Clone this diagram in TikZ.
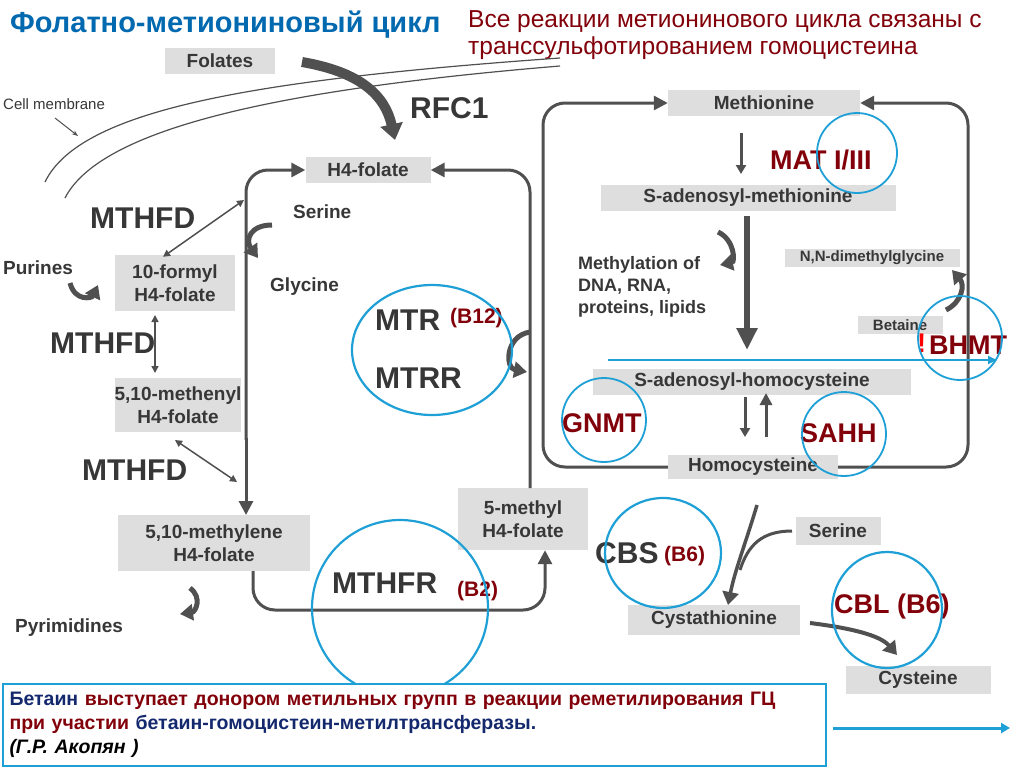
\documentclass[tikz,border=0pt]{standalone}
\usepackage{fontspec}
\setmainfont{Liberation Sans}
\usetikzlibrary{arrows.meta}
\definecolor{gbox}{RGB}{222,222,222}
\definecolor{gtxt}{RGB}{55,55,55}
\definecolor{gline}{RGB}{80,80,80}
\definecolor{dred}{RGB}{130,0,10}
\definecolor{tblue}{RGB}{0,105,175}
\definecolor{cblue}{RGB}{30,160,215}
\definecolor{nblue}{RGB}{20,40,110}
\tikzset{
 gb/.style={fill=gbox,text=gtxt,font=\bfseries\fontsize{19}{23}\selectfont,inner sep=0pt,align=center},
 glab/.style={text=gtxt,font=\bfseries\fontsize{19}{22}\selectfont,anchor=west,inner sep=0pt,align=left},
 enz/.style={text=gtxt,font=\bfseries\fontsize{30}{32}\selectfont,anchor=west,inner sep=0pt},
 red/.style={text=dred,font=\bfseries\fontsize{27}{30}\selectfont,anchor=west,inner sep=0pt},
 rp/.style={text=dred,font=\bfseries\fontsize{21}{24}\selectfont,anchor=west,inner sep=0pt},
 ring/.style={draw=cblue,line width=2.2pt},
 flow/.style={draw=gline,line width=3pt,rounded corners=22pt},
 thin2/.style={draw=gline,line width=1.5pt,{Triangle[length=7pt,width=7pt]}-{Triangle[length=7pt,width=7pt]}},
 tip/.style={-{Triangle[length=14pt,width=14pt]}},
 fat/.style={draw=gline,line width=6pt,-{Triangle[length=13pt,width=16pt]}},
}
\begin{document}
\begin{tikzpicture}[x=1pt,y=-1pt]
\useasboundingbox (0,0) rectangle (1024,768);
\fill[white] (0,0) rectangle (1024,768);
% titles
\node[anchor=west,text=tblue,font=\bfseries\fontsize{29}{31}\selectfont,inner sep=0pt] (title) at (10,25) {Фолатно-метиониновый цикл};
\node[anchor=north west,text=dred,font=\fontsize{24.5}{27}\selectfont,align=left,inner sep=0pt] (note) at (468,10) {Все реакции метионинового цикла связаны с\\трансcульфотированием гомоцистеина};
% membrane
\draw[gline,line width=1.2pt] (45,182) .. controls (80,110) and (250,80) .. (560,58);
\draw[gline,line width=1.2pt] (65,198) .. controls (100,130) and (270,90) .. (560,66);
\node[glab,font=\fontsize{15}{17}\selectfont] (cm) at (3,104) {Cell membrane};
\coordinate (cmA) at (55,118); \coordinate (cmB) at (78,136);
\draw[gline,line width=1pt,-{Stealth[length=6pt]}] (cmA) -- (cmB);
% folates / RFC1
\node[gb,minimum width=110pt,minimum height=26pt] (fol) at (220,61) {Folates};
\node[gb,minimum width=125pt,minimum height=26pt] (h4) at (368,170) {H4-folate};
\coordinate (rfA) at (302,62); \coordinate (rfB) at (395,140);
\draw[fat,line width=10pt,-{Triangle[length=16pt,width=22pt]}] (rfA) .. controls (360,72) and (385,95) .. (rfB);
\node[enz] (rfc) at (410,108) {RFC1};
% left side
\node[enz] (mthfd1) at (90,218) {MTHFD};
\node[enz] (mthfd2) at (50,343) {MTHFD};
\node[enz] (mthfd3) at (82,470) {MTHFD};
\node[gb,minimum width=120pt,minimum height=56pt] (form) at (175,283) {10-formyl\\H4-folate};
\node[gb,minimum width=125pt,minimum height=54pt] (meth) at (178,405) {5,10-methenyl\\H4-folate};
\node[gb,minimum width=192pt,minimum height=56pt] (mlene) at (214,543) {5,10-methylene\\H4-folate};
\node[gb,minimum width=130pt,minimum height=62pt] (m5) at (523,519) {5-methyl\\H4-folate};
\node[glab] (ser1) at (293,212) {Serine};
\node[glab] (gly) at (270,287) {Glycine};
\node[glab] (pur) at (3,268) {Purines};
\node[glab] (pyr) at (15,628) {Pyrimidines};
% main folate loop
\draw[flow,tip] (246,440) -- (246,170) -- (h4.west);
\draw[draw=gline,line width=3pt,tip] (246,438) -- (246,515);
\coordinate (lc) at (244,200);
\draw[thin2] (lc) -- ([xshift=-12pt,yshift=-2pt]form.north);
\draw[thin2] (155,315) -- (155,373);
\draw[thin2] (175,440) -- (237,482);
\draw[flow,tip] (253,571) -- (253,610) -- (545,610) -- (m5.south -| 545,0);
\draw[flow,tip] (530,488) -- (530,170) -- (h4.east);
% serine->glycine etc
\draw[fat,line width=5pt] (272,225) .. controls (250,225) and (245,240) .. (258,258);
\draw[fat,line width=5pt] (70,283) .. controls (75,302) and (92,298) .. (98,285);
\draw[fat,line width=5pt] (190,588) .. controls (203,598) and (195,612) .. (180,614);
% MTR
\draw[fat,line width=5pt] (530,332) .. controls (505,336) and (505,368) .. (527,372);
\node[enz] (mtr) at (375,320) {MTR};
\node[rp] (b12) at (450,318) {(B12)};
\node[enz] (mtrr) at (375,378) {MTRR};
\draw[ring] (432,350) ellipse (80 and 65);
% methionine cycle
\node[gb,minimum width=192pt,minimum height=26pt] (met) at (764,103) {Methionine};
\node[gb,minimum width=295pt,minimum height=26pt] (sam) at (748,198) {S-adenosyl-methionine};
\node[gb,minimum width=318pt,minimum height=26pt] (sah) at (752,382) {S-adenosyl-homocysteine};
\node[gb,minimum width=170pt,minimum height=24pt] (hcy) at (753,467) {Homocysteine};
\node[gb,font=\bfseries\fontsize{15}{17}\selectfont,minimum width=175pt,minimum height=18pt] (dmg) at (872,258) {N,N-dimethylglycine};
\node[gb,font=\bfseries\fontsize{15}{17}\selectfont,minimum width=85pt,minimum height=18pt] (bet) at (900,325) {Betaine};
\draw[flow,tip] (hcy.west) -- (543,467) -- (543,103) -- (met.west);
\draw[flow,tip] (hcy.east) -- (968,467) -- (968,103) -- (met.east);
\draw[draw=gline,line width=3pt,-{Triangle[length=9pt,width=10pt]}] (741,133) -- (741,174);
\draw[draw=gline,line width=6pt,-{Triangle[length=22pt,width=20pt]}] (sam.south -| 747,0) ++(0,5) -- (747,350);
\draw[fat,line width=5pt] (718,232) .. controls (735,240) and (735,262) .. (720,265);
\node[glab,font=\bfseries\fontsize{18}{22}\selectfont] (mdna) at (578,287) {Methylation of\\DNA, RNA,\\proteins, lipids};
\draw[fat,line width=5pt] (946,310) .. controls (962,302) and (965,285) .. (952,270);
\draw[draw=gline,line width=3pt,-{Triangle[length=9pt,width=10pt]}] (745,397) -- (745,437);
\draw[draw=gline,line width=3pt,-{Triangle[length=12pt,width=12pt]}] (766,437) -- (766,393);
\node[red] (mat) at (770,160) {MAT I/III};
\draw[ring,line width=1.8pt] (857,153) circle (40);
\node[red] (gnmt) at (562,423) {GNMT};
\draw[ring,line width=1.8pt] (604,420) circle (42);
\node[red] (sahh) at (800,433) {SAHH};
\draw[ring,line width=1.8pt] (844,434) circle (42);
\coordinate (ba) at (608,360); \coordinate (bb) at (997,360);
\draw[cblue,line width=2pt,-{Triangle[length=9pt,width=8pt]}] (ba) -- (bb);
\node[red,text=red] (ex) at (917,343) {!};
\node[red] (bhmt) at (929,345) {BHMT};
\draw[ring,line width=1.8pt] (960,338) circle (42);
% transsulfuration
\node[gb,minimum width=85pt,minimum height=28pt] (ser2) at (838,531) {Serine};
\node[gb,minimum width=172pt,minimum height=30pt] (cys) at (714,620) {Cystathionine};
\node[gb,minimum width=145pt,minimum height=28pt] (cyst) at (918,680) {Cysteine};
\draw[fat,line width=3.5pt] (757,505) .. controls (745,545) and (735,570) .. (728,605);
\draw[gline,line width=3pt] (792,531) .. controls (762,531) and (748,545) .. (740,570);
\draw[fat,line width=4pt] (810,623) .. controls (850,628) and (880,635) .. (897,655);
\node[enz] (cbs) at (595,553) {CBS};
\node[rp] (b6a) at (664,556) {(B6)};
\draw[ring] (663,553) ellipse (58 and 55);
\node[red] (cbl) at (834,607) {CBL (B6)};
\draw[ring] (887,610) ellipse (55 and 58);
\node[enz] (mthfr) at (332,583) {MTHFR};
\node[rp] (b2) at (457,591) {(B2)};
\draw[ring] (400,608) ellipse (88 and 88);
% bottom note
\node[draw=cblue,line width=2pt,fill=white,anchor=north west,minimum width=823pt,minimum height=82pt,text width=810pt,inner sep=6pt,align=left,font=\bfseries\fontsize{19.5}{24}\selectfont,text=nblue] (box) at (2,683)
{Бетаин \textcolor{dred}{выступает донором метильных групп в реакции реметилирования ГЦ}\\
\textcolor{dred}{при участии} бетаин-гомоцистеин-метилтрансферазы.\\
\textcolor{black}{\itshape (Г.Р. Акопян )}};
\coordinate (ca) at (833,728); \coordinate (cb) at (1010,728);
\draw[cblue,line width=3pt,-{Triangle[length=9pt,width=10pt]}] (ca) -- (cb);
\end{tikzpicture}
\end{document}
